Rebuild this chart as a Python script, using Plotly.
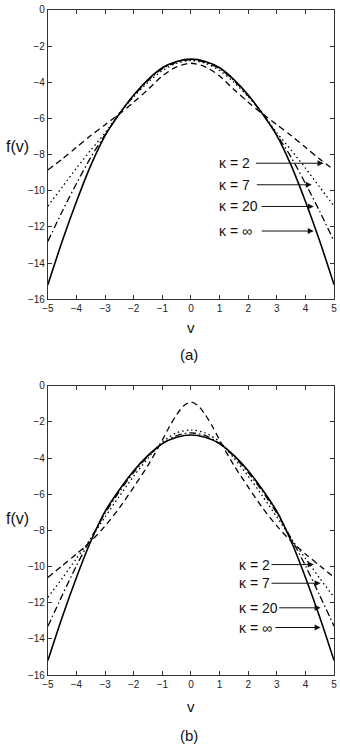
import plotly.graph_objects as go

# ---- data (symmetric curves, v from -5 to 5) ----
v_half = [0, 0.5, 1, 1.5, 2, 2.5, 3, 3.5, 4, 4.5, 5]

a_inf = [-2.72, -2.85, -3.2, -3.85, -4.7, -5.75, -6.95, -8.6, -10.6, -12.8, -15.2]
a_k2 = [-2.95, -3.15, -3.65, -4.4, -5.1, -5.75, -6.35, -6.95, -7.6, -8.25, -8.85]
a_k7 = [-2.8, -2.95, -3.35, -4.0, -4.8, -5.7, -6.8, -7.75, -8.75, -9.8, -10.85]
a_k20 = [-2.75, -2.9, -3.25, -3.9, -4.75, -5.75, -6.9, -8.15, -9.6, -11.15, -12.8]

v_half_b2 = [0, 0.25, 0.5, 0.75, 1, 1.5, 2, 2.5, 3, 3.5, 4, 4.5, 5]
b_k2 = [-0.9, -1.1, -1.6, -2.25, -3.0, -4.4, -5.6, -6.75, -7.75, -8.6, -9.3, -9.95, -10.6]
b_inf = [-2.72, -2.85, -3.2, -3.85, -4.7, -5.75, -6.95, -8.6, -10.6, -12.8, -15.2]
b_k7 = [-2.45, -2.6, -3.1, -4.0, -5.0, -6.1, -7.25, -8.45, -9.55, -10.65, -11.7]
b_k20 = [-2.6, -2.75, -3.2, -3.9, -4.8, -5.85, -7.05, -8.45, -9.95, -11.6, -13.3]

x_ticks = [-5, -4, -3, -2, -1, 0, 1, 2, 3, 4, 5]
y_ticks = [0, -2, -4, -6, -8, -10, -12, -14, -16]
labels = ["κ = 2", "κ = 7", "κ = 20", "κ = ∞"]
panel_names = ["(a)", "(b)"]


def mirror(xs, ys):
    xx = [-x for x in reversed(xs[1:])] + list(xs)
    yy = list(reversed(ys[1:])) + list(ys)
    return xx, yy


FONT = "Liberation Sans"
fig = go.Figure()

styles = {
    "k2": dict(color="black", width=1.3, dash="6px,4px"),
    "k7": dict(color="black", width=1.3, dash="1.5px,3px"),
    "k20": dict(color="black", width=1.3, dash="7px,3px,1.5px,3px"),
    "inf": dict(color="black", width=1.6, dash="solid"),
}

panels = [
    ("x", "y", [(v_half, a_k2, "k2"), (v_half, a_k7, "k7"), (v_half, a_k20, "k20"), (v_half, a_inf, "inf")]),
    ("x2", "y2", [(v_half_b2, b_k2, "k2"), (v_half, b_k7, "k7"), (v_half, b_k20, "k20"), (v_half, b_inf, "inf")]),
]
for xa, ya, series in panels:
    for xs, ys, key in series:
        xx, yy = mirror(xs, ys)
        fig.add_trace(go.Scatter(x=xx, y=yy, mode="lines", line=dict(shape="spline", smoothing=0.8, **styles[key]),
                                 xaxis=xa, yaxis=ya, showlegend=False, hoverinfo="skip"))

axis_common = dict(range=[-5, 5], tickmode="array", tickvals=x_ticks, ticks="inside", ticklen=4,
                   showline=True, linecolor="#333", linewidth=1, mirror="allticks", showgrid=False,
                   zeroline=False, tickfont=dict(family=FONT, size=10, color="#222"), tickcolor="#333",
                   ticklabeloverflow="allow")
yaxis_common = dict(range=[-16, 0], tickmode="array", tickvals=y_ticks, ticks="inside", ticklen=4,
                    showline=True, linecolor="#333", linewidth=1, mirror="allticks", showgrid=False,
                    zeroline=False, tickfont=dict(family=FONT, size=10, color="#222"), tickcolor="#333",
                    ticklabeloverflow="allow")

xdom = [43 / 340, 337 / 340]
fig.update_layout(
    width=340, height=746, margin=dict(l=0, r=0, t=0, b=0),
    paper_bgcolor="white", plot_bgcolor="white",
    xaxis=dict(domain=xdom, anchor="y", **axis_common),
    yaxis=dict(domain=[1 - 298 / 746, 1 - 4 / 746], anchor="x", **yaxis_common),
    xaxis2=dict(domain=xdom, anchor="y2", **axis_common),
    yaxis2=dict(domain=[1 - 680 / 746, 1 - 386 / 746], anchor="x2", **yaxis_common),
)

ann = []
# arrow label geometry (data coords): text left, tail x, tip x, y
arrows_a = [(0.90, 2.22, 4.63, -8.48), (0.90, 2.25, 4.22, -9.67), (0.90, 2.42, 4.29, -10.87), (0.90, 2.42, 4.29, -12.23)]
arrows_b = [(1.61, 2.76, 4.29, -9.89), (1.61, 2.76, 4.53, -10.92), (1.61, 3.03, 4.53, -12.28), (1.61, 2.90, 4.53, -13.37)]
for (xa, ya), arrows in [(("x", "y"), arrows_a), (("x2", "y2"), arrows_b)]:
    for lab, (tx, tail, tip, yy) in zip(labels, arrows):
        ann.append(dict(x=tx, y=yy, xref=xa, yref=ya, text=lab, showarrow=False, xanchor="left",
                        yanchor="middle", font=dict(family=FONT, size=14, color="#111")))
        ann.append(dict(x=tip, y=yy, ax=tail, ay=yy, xref=xa, yref=ya, axref=xa, ayref=ya, text="",
                        showarrow=True, arrowhead=2, arrowsize=1.2, arrowwidth=1, arrowcolor="#111"))

# axis labels and panel names
for fy, vy, py, name in [(143, 327, 354, panel_names[0]), (521, 712, 741, panel_names[1])]:
    ann.append(dict(x=12 / 340, y=1 - fy / 746, xref="paper", yref="paper", text="f(v)", showarrow=False,
                    xanchor="center", yanchor="middle", font=dict(family=FONT, size=16, color="#111")))
    ann.append(dict(x=190 / 340, y=1 - vy / 746, xref="paper", yref="paper", text="v", showarrow=False,
                    xanchor="center", yanchor="middle", font=dict(family=FONT, size=15, color="#111")))
    ann.append(dict(x=188 / 340, y=1 - py / 746, xref="paper", yref="paper", text=name, showarrow=False,
                    xanchor="center", yanchor="middle", font=dict(family=FONT, size=15, color="#111")))

fig.update_layout(annotations=ann)
fig.write_html("out.html")
